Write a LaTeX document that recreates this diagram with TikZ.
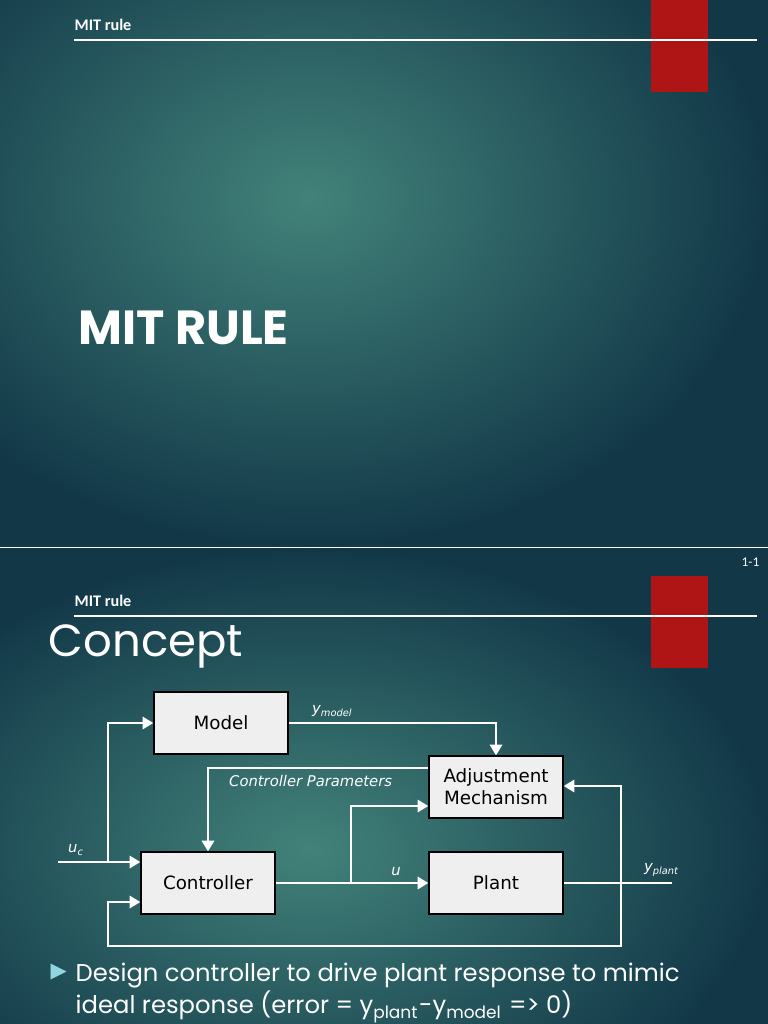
\documentclass[tikz,border=0pt]{standalone}
\usepackage{fontspec}
\setmainfont{Carlito}
\newfontfamily\boxfont{DejaVu Sans}
\newfontfamily\gothic{Poppins}
\usetikzlibrary{arrows.meta,positioning}
\definecolor{slidein}{HTML}{42827A}
\definecolor{slideout}{HTML}{123848}
\definecolor{slidered}{HTML}{B01515}
\definecolor{boxfill}{HTML}{EFEFEF}
\definecolor{bulletblue}{HTML}{8FD6E0}
\newcommand{\subtxt}[1]{\raisebox{-1pt}{\fontsize{2.8}{3}\selectfont #1}}
\tikzset{
  blockbox/.style={draw=black,fill=boxfill,minimum width=1.34cm,minimum height=0.62cm,inner sep=0pt,align=center,font=\boxfont\fontsize{5.2}{6.2}\selectfont},
  sig/.style={draw=white,line width=0.6pt,-{Triangle[length=3pt,width=3.5pt]}},
  siglbl/.style={text=white,font=\boxfont\itshape\fontsize{4.2}{5}\selectfont,inner sep=1pt},
  header/.style={text=white,anchor=west,font=\bfseries\fontsize{4.6}{5}\selectfont,inner sep=0pt}
}
\begin{document}
\begin{tikzpicture}[x=0.01cm,y=-0.01cm]
  \useasboundingbox (0,0) rectangle (768,1024);
  % slide one
  \shade[inner color=slidein,outer color=slideout] (-150,-150) rectangle (768,547);
  \shade[inner color=slidein,outer color=slideout] (-150,548) rectangle (768,1150);
  \draw[white,line width=0.5pt] (0,547.5) -- (768,547.5);
  \fill[slidered] (651,0) rectangle (708,92);
  \draw[white,line width=0.3pt] (74,40) -- (757,40);
  \node[header] (head1) at (74,25) {MIT rule};
  \node[text=white,anchor=west,inner sep=0pt,font=\gothic\bfseries\fontsize{13.6}{15}\selectfont] (title1) at (78,328) {MIT RULE};
  \node[text=white,anchor=east,inner sep=0pt,font=\fontsize{3.8}{4}\selectfont] (page) at (760,562) {1-1};
  % slide two
  \fill[slidered] (651,576) rectangle (708,668);
  \draw[white,line width=0.3pt] (74,616) -- (757,616);
  \node[header] (head2) at (74,601) {MIT rule};
  \node[text=white,anchor=west,inner sep=0pt,font=\gothic\fontsize{12.8}{14}\selectfont] (title2) at (48,646) {Concept};
  % block diagram
  \node[blockbox] (model) at (221,723) {Model};
  \node[blockbox] (adjust) at (496,787) {Adjustment\\Mechanism};
  \node[blockbox] (ctrl) at (208,883) {Controller};
  \node[blockbox] (plant) at (496,883) {Plant};
  \coordinate (uc) at (58,862);
  \coordinate (yout) at (672,883);
  \coordinate (split) at (108,862);
  \coordinate (usplit) at (351,883);
  \coordinate (fb) at (621,883);
  \draw[sig] (uc) -- (uc -| ctrl.west);
  \draw[sig] (split) |- (model.west);
  \draw[sig] (model.east) -| (adjust.north);
  \draw[sig] (adjust.west |- 0,768) -| (ctrl.north -| 208,0);
  \draw[sig] (ctrl.east) -- (plant.west);
  \draw[sig] (usplit) |- (adjust.west |- 0,806);
  \draw[draw=white,line width=0.6pt] (plant.east) -- (yout);
  \draw[sig] (fb) |- (adjust.east |- 0,786);
  \draw[sig] (fb) |- (108,946) |- (ctrl.west |- 0,902);
  \node[siglbl,anchor=south west] (ylbl) at (308,721) {y\subtxt{model}};
  \node[siglbl,anchor=west] (cplbl) at (225,781) {Controller Parameters};
  \node[siglbl,anchor=south west] (uclbl) at (64,860) {u\subtxt{c}};
  \node[siglbl,anchor=south] (ulbl) at (396,880) {u};
  \node[siglbl,anchor=south west] (yplbl) at (640,881) {y\subtxt{plant}};
  % bullet
  \node[text=bulletblue,anchor=west,inner sep=0pt,font=\fontsize{6}{6}\selectfont] (tri) at (50,972) {\boxfont ▶};
  \node[text=white,anchor=north west,inner sep=0pt,align=left,font=\gothic\fontsize{6.9}{6.3}\selectfont] (bul) at (75,962)
    {Design controller to drive plant response to mimic\\ideal response (error = y\textsubscript{plant}-y\textsubscript{model} => 0)};
\end{tikzpicture}
\end{document}
